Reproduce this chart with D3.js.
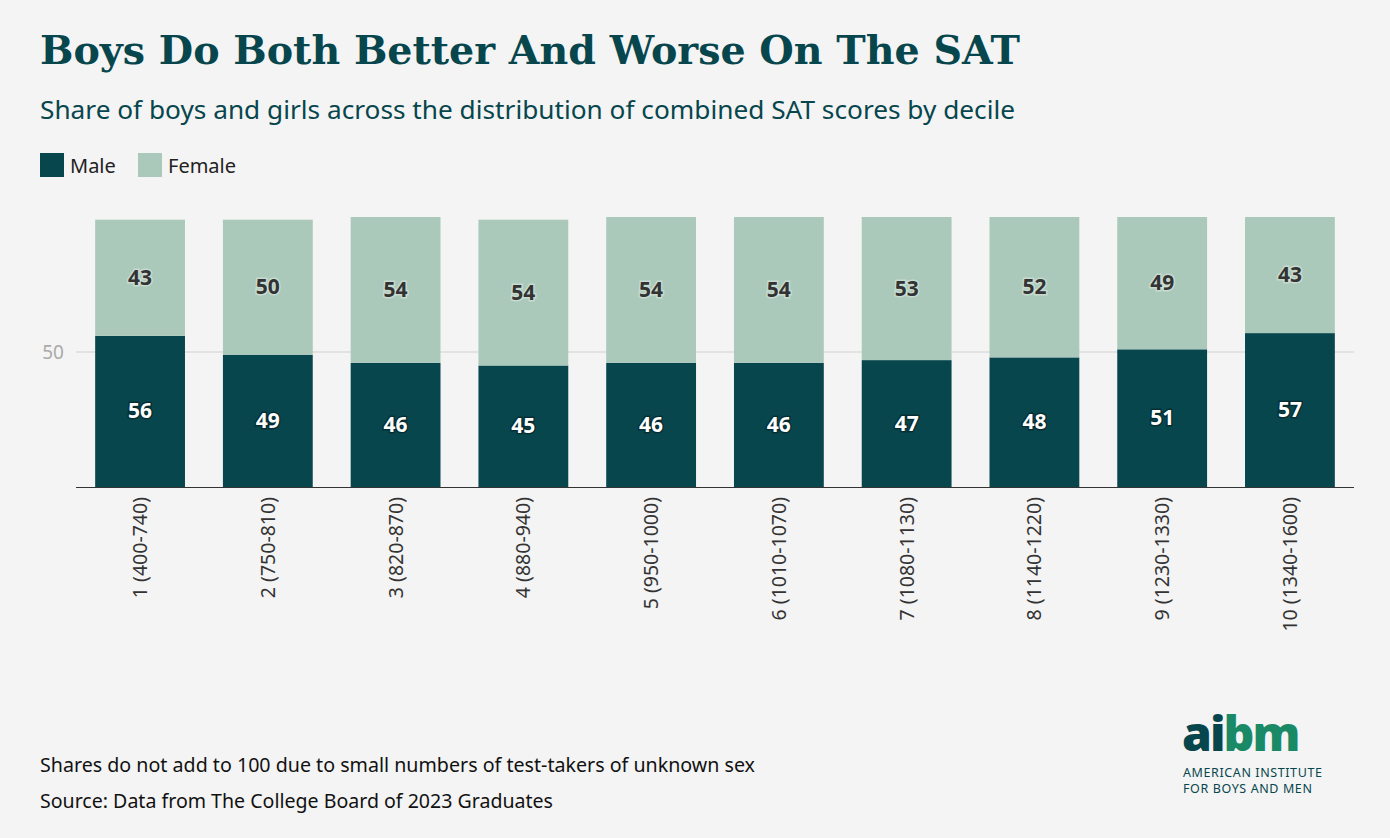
<!DOCTYPE html>
<html><head><meta charset="utf-8">
<script src="https://cdn.jsdelivr.net/npm/d3@7"></script>
<style>
body{margin:0;background:#f4f4f4;}
svg{display:block;}
</style></head>
<body>
<script>
var deciles=["1 (400-740)","2 (750-810)","3 (820-870)","4 (880-940)","5 (950-1000)","6 (1010-1070)","7 (1080-1130)","8 (1140-1220)","9 (1230-1330)","10 (1340-1600)"];
var male=[56,49,46,45,46,46,47,48,51,57];
var female=[43,50,54,54,54,54,53,52,49,43];
var yTicks=[50];

var W=1390,H=838;
var dark="#08464d", light="#abc9ba";
var svg=d3.select("body").append("svg").attr("width",W).attr("height",H);
svg.append("rect").attr("width",W).attr("height",H).attr("fill","#f4f4f4");

svg.append("text").attr("x",40).attr("y",64).attr("fill",dark)
   .attr("font-family","DejaVu Serif").attr("font-weight","bold").attr("font-size","39px")
   .attr("textLength",980).attr("lengthAdjust","spacingAndGlyphs")
   .text("Boys Do Both Better And Worse On The SAT");
svg.append("text").attr("x",40).attr("y",119).attr("fill",dark)
   .attr("font-family","Noto Sans").attr("font-size","25px")
   .attr("textLength",975).attr("lengthAdjust","spacingAndGlyphs")
   .text("Share of boys and girls across the distribution of combined SAT scores by decile");

//legend
var leg=[["Male",dark,40],["Female",light,138]];
leg.forEach(function(l){
  svg.append("rect").attr("x",l[2]).attr("y",153).attr("width",24).attr("height",24).attr("fill",l[1]);
  svg.append("text").attr("x",l[2]+30).attr("y",173).attr("font-family","Noto Sans").attr("font-size","20px")
     .attr("fill","#222").text(l[0]);
});

var x=d3.scaleBand().domain(deciles).range([76,1354]).paddingInner(0.297).paddingOuter(0.15);
var y=d3.scaleLinear().domain([0,100]).range([487,217]);

var g=svg.append("g");
yTicks.forEach(function(t){
  g.append("line").attr("x1",76).attr("x2",1354).attr("y1",y(t)).attr("y2",y(t)).attr("stroke","#e2e2e2").attr("stroke-width",2);
  g.append("text").attr("x",64).attr("y",y(t)+7).attr("text-anchor","end").attr("font-family","Noto Sans")
   .attr("font-size","19px").attr("fill","#aaa").text(t);
});

var data=deciles.map(function(d,i){return {k:d,m:male[i],f:female[i]};});

g.selectAll(".m").data(data).enter().append("rect").attr("class","m")
 .attr("x",function(d){return x(d.k);}).attr("width",x.bandwidth())
 .attr("y",function(d){return y(d.m);}).attr("height",function(d){return y(0)-y(d.m);}).attr("fill",dark);
g.selectAll(".f").data(data).enter().append("rect").attr("class","f")
 .attr("x",function(d){return x(d.k);}).attr("width",x.bandwidth())
 .attr("y",function(d){return y(d.m+d.f);}).attr("height",function(d){return y(d.m)-y(d.m+d.f);}).attr("fill",light);

g.append("line").attr("x1",76).attr("x2",1354).attr("y1",487.5).attr("y2",487.5).attr("stroke","#333").attr("stroke-width",1);

function lab(cls,val,ypos,fill,halo){
  g.selectAll("."+cls).data(data).enter().append("text").attr("class",cls)
   .attr("x",function(d){return x(d.k)+x.bandwidth()/2;}).attr("y",ypos)
   .attr("text-anchor","middle").attr("font-family","Noto Sans").attr("font-weight","bold").attr("font-size","21px")
   .attr("fill",fill).attr("stroke",halo).attr("stroke-width",3).attr("stroke-opacity",0.35).attr("paint-order","stroke")
   .text(val);
}
lab("ml",function(d){return d.m;},function(d){return (y(0)+y(d.m))/2+7;},"#fff","#000");
lab("fl",function(d){return d.f;},function(d){return (y(d.m)+y(d.m+d.f))/2+7;},"#333","#fff");

g.selectAll(".xl").data(deciles).enter().append("text").attr("class","xl")
 .attr("transform",function(d){return "translate("+(x(d)+x.bandwidth()/2+7)+",497) rotate(-90)";})
 .attr("text-anchor","end").attr("font-family","Noto Sans").attr("font-size","19.5px").attr("fill","#333")
 .text(function(d){return d;});

svg.append("text").attr("x",40).attr("y",772).attr("font-family","Noto Sans").attr("font-size","19.5px").attr("fill","#111")
   .attr("textLength",715).attr("lengthAdjust","spacingAndGlyphs")
   .text("Shares do not add to 100 due to small numbers of test-takers of unknown sex");
svg.append("text").attr("x",40).attr("y",808).attr("font-family","Noto Sans").attr("font-size","19.5px").attr("fill","#111")
   .attr("textLength",513).attr("lengthAdjust","spacingAndGlyphs")
   .text("Source: Data from The College Board of 2023 Graduates");

//logo
var logo=svg.append("text").attr("x",1182).attr("y",751).attr("font-family","Noto Sans").attr("font-weight","900").attr("font-size","48px").attr("letter-spacing","-2");
logo.append("tspan").attr("fill",dark).text("ai");
logo.append("tspan").attr("fill","#1a8a66").text("bm");
svg.append("text").attr("x",1183).attr("y",777).attr("font-family","Noto Sans").attr("font-size","12.5px").attr("fill",dark).attr("letter-spacing","0.6").text("AMERICAN INSTITUTE");
svg.append("text").attr("x",1183).attr("y",793).attr("font-family","Noto Sans").attr("font-size","12.5px").attr("fill",dark).attr("letter-spacing","0.6").text("FOR BOYS AND MEN");
</script>
</body></html>
